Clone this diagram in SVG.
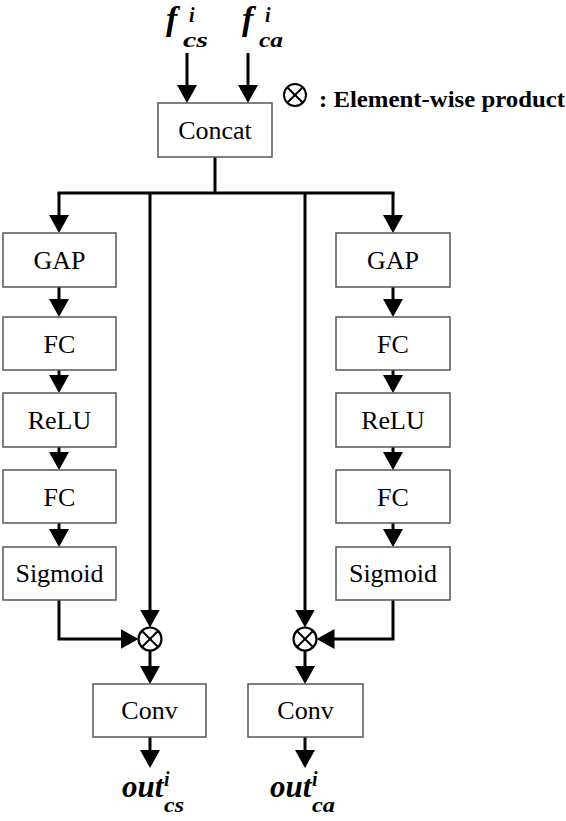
<svg xmlns="http://www.w3.org/2000/svg" width="566" height="821" viewBox="0 0 566 821">
<style>
.box{fill:#fff;stroke:#555;stroke-width:1.5}
.lbl{font-family:"Liberation Serif","Times New Roman",serif;font-size:26px;fill:#000;text-anchor:middle}
.math{font-family:"Liberation Serif","Times New Roman",serif;font-style:italic;font-weight:bold;fill:#000}
.sub{font-family:"Liberation Serif","Times New Roman",serif;font-style:italic;font-weight:bold;fill:#000;font-size:22px}
.ln{fill:none;stroke:#000;stroke-width:3;stroke-linejoin:miter}
.arr{marker-end:url(#ah)}
.mul{fill:#fff;stroke:#000;stroke-width:2.2}
.x{stroke:#000;stroke-width:2}
</style>
<defs>
<marker id="ah" viewBox="0 0 18 20" markerWidth="18" markerHeight="20" refX="14" refY="10" orient="auto" markerUnits="userSpaceOnUse">
<path d="M0,0 L18,10 L0,20 Z" fill="#000"/>
</marker>
</defs>
<rect width="566" height="821" fill="#fff"/>

<g id="inputs">
<text class="math" x="166" y="30" font-size="34">f</text>
<text class="math" x="189" y="22" font-size="20">i</text>
<text class="sub" x="183" y="46.5" textLength="25" lengthAdjust="spacingAndGlyphs">cs</text>
<text class="math" x="242" y="30" font-size="34">f</text>
<text class="math" x="265" y="22" font-size="20">i</text>
<text class="sub" x="259" y="46.5" textLength="24" lengthAdjust="spacingAndGlyphs">ca</text>
</g>

<g id="legend">
<circle cx="295" cy="95" r="11" fill="none" stroke="#000" stroke-width="2"/>
<line class="x" x1="287.2" y1="87.2" x2="302.8" y2="102.8"/>
<line class="x" x1="302.8" y1="87.2" x2="287.2" y2="102.8"/>
<text x="319" y="107" font-family="'Liberation Serif','Times New Roman',serif" font-weight="bold" font-size="23" textLength="246" lengthAdjust="spacingAndGlyphs">: Element-wise product</text>
</g>

<g id="connectors">
<path class="ln arr" d="M187,53 V99"/>
<path class="ln arr" d="M248,53 V99"/>
<path class="ln" d="M215,157 V193"/>
<path class="ln" d="M59,193 H393" stroke-linecap="square"/>
<path class="ln arr" d="M59,193 V229"/>
<path class="ln arr" d="M393,193 V229"/>
<path class="ln arr" d="M150,193 V623.5"/>
<path class="ln arr" d="M305,193 V623.5"/>
<path class="ln arr" d="M59,287 V313"/>
<path class="ln arr" d="M59,370 V389"/>
<path class="ln arr" d="M59,447 V466"/>
<path class="ln arr" d="M59,523 V543"/>
<path class="ln arr" d="M393,287 V313"/>
<path class="ln arr" d="M393,370 V389"/>
<path class="ln arr" d="M393,447 V466"/>
<path class="ln arr" d="M393,523 V543"/>
<path class="ln arr" d="M59,600 V639 H134.5"/>
<path class="ln arr" d="M393,600 V639 H320.5"/>
<path class="ln arr" d="M150,650.5 V680"/>
<path class="ln arr" d="M305,650.5 V680"/>
<path class="ln arr" d="M150,737 V764"/>
<path class="ln arr" d="M305,737 V764"/>
</g>

<g id="concat"><rect class="box" x="158" y="103" width="114" height="54"/><text class="lbl" x="215" y="139" font-size="27">Concat</text></g>

<g id="gap-left"><rect class="box" x="3" y="233" width="113" height="54"/><text class="lbl" x="59.5" y="269">GAP</text></g>
<g id="fc1-left"><rect class="box" x="3" y="317" width="113" height="53"/><text class="lbl" x="59.5" y="352.5">FC</text></g>
<g id="relu-left"><rect class="box" x="3" y="393" width="113" height="54"/><text class="lbl" x="59.5" y="429">ReLU</text></g>
<g id="fc2-left"><rect class="box" x="3" y="470" width="113" height="53"/><text class="lbl" x="59.5" y="505.5">FC</text></g>
<g id="sigmoid-left"><rect class="box" x="3" y="547" width="113" height="53"/><text class="lbl" x="59.5" y="582">Sigmoid</text></g>

<g id="gap-right"><rect class="box" x="336" y="233" width="114" height="54"/><text class="lbl" x="393" y="269">GAP</text></g>
<g id="fc1-right"><rect class="box" x="336" y="317" width="114" height="53"/><text class="lbl" x="393" y="352.5">FC</text></g>
<g id="relu-right"><rect class="box" x="336" y="393" width="114" height="54"/><text class="lbl" x="393" y="429">ReLU</text></g>
<g id="fc2-right"><rect class="box" x="336" y="470" width="114" height="53"/><text class="lbl" x="393" y="505.5">FC</text></g>
<g id="sigmoid-right"><rect class="box" x="336" y="547" width="114" height="53"/><text class="lbl" x="393" y="582">Sigmoid</text></g>

<g id="mul-left"><circle class="mul" cx="150" cy="639" r="11.5"/><line class="x" x1="142" y1="631" x2="158" y2="647"/><line class="x" x1="158" y1="631" x2="142" y2="647"/></g>
<g id="mul-right"><circle class="mul" cx="305" cy="639" r="11.5"/><line class="x" x1="297" y1="631" x2="313" y2="647"/><line class="x" x1="313" y1="631" x2="297" y2="647"/></g>

<g id="conv-left"><rect class="box" x="93" y="684" width="113" height="53"/><text class="lbl" x="149.5" y="719">Conv</text></g>
<g id="conv-right"><rect class="box" x="248" y="684" width="115" height="53"/><text class="lbl" x="305.5" y="719">Conv</text></g>

<g id="outputs">
<text class="math" x="122" y="797" font-size="31">out</text>
<text class="math" x="164" y="786" font-size="20">i</text>
<text class="sub" x="164" y="811.5" textLength="20" lengthAdjust="spacingAndGlyphs">cs</text>
<text class="math" x="270" y="797" font-size="31">out</text>
<text class="math" x="312" y="786" font-size="20">i</text>
<text class="sub" x="312" y="811.5" textLength="23" lengthAdjust="spacingAndGlyphs">ca</text>
</g>
</svg>
